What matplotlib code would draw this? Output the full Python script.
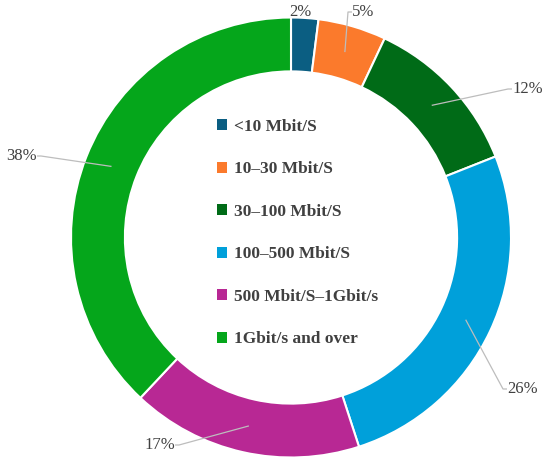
import numpy as np
import matplotlib.pyplot as plt
from matplotlib.patches import Patch

# Data
categories = ["<10 Mbit/S", "10\u201330 Mbit/S", "30\u2013100 Mbit/S",
              "100\u2013500 Mbit/S", "500 Mbit/S\u20131Gbit/s", "1Gbit/s and over"]
shares = [2, 5, 12, 26, 17, 38]
colors = ["#0b5e82", "#fb7a2c", "#006b17", "#00a0da", "#b82894", "#05a61b"]

# label text positions (pixels in the 550x470 figure) and alignment
label_px = [(300, 12), (352, 12), (512, 89), (507, 389), (175, 445), (37, 156)]
label_ha = ["center", "left", "left", "left", "right", "right"]
show_line = [False, True, True, True, True, True]

W, H = 550, 470
cx, cy, R = 291, 237.5, 220.0
ring = 0.245

fig = plt.figure(figsize=(W / 100, H / 100), dpi=100)
ax = fig.add_axes([0, 0, 1, 1])

wedges, _ = ax.pie(shares, colors=colors, startangle=90, counterclock=False,
                   radius=1.0, wedgeprops=dict(width=ring, edgecolor="white", linewidth=1.5))
ax.set_aspect("auto")
ax.set_xlim(-cx / R, (W - cx) / R)
ax.set_ylim(-(H - cy) / R, cy / R)
ax.axis("off")

def px2data(px, py):
    return (px - cx) / R, (cy - py) / R

text_col = "#404040"
line_col = "#bdbdbd"
for w, v, (px, py), ha, sl in zip(wedges, shares, label_px, label_ha, show_line):
    tx, ty = px2data(px, py)
    if sl:
        ang = np.deg2rad((w.theta1 + w.theta2) / 2)
        rm = 1 - ring / 2
        axx, ayy = rm * np.cos(ang), rm * np.sin(ang)
        d = 4 / R if ha == "left" else -4 / R
        ax.plot([axx, tx - d, tx], [ayy, ty, ty], color=line_col, lw=0.9,
                solid_capstyle="butt")
    ax.text(tx, ty, f"{v}%", ha=ha, va="center", fontsize=12,
            family="Liberation Serif", color=text_col)

handles = [Patch(facecolor=c, edgecolor="none") for c in colors]
leg = ax.legend(handles, categories, loc="center left",
                bbox_to_anchor=(217 / W, 1 - 233 / H), bbox_transform=fig.transFigure,
                frameon=False, handlelength=0.6, handleheight=0.6, handletextpad=0.4,
                labelspacing=1.53, borderpad=0, borderaxespad=0,
                prop=dict(family="Liberation Serif", size=12.5, weight="bold"))
for t in leg.get_texts():
    t.set_color(text_col)

fig.savefig("out.png", dpi=100)
